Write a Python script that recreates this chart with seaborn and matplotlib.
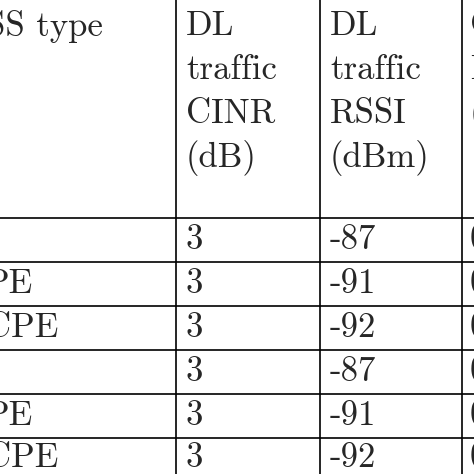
import matplotlib
matplotlib.use("Agg")
import matplotlib.pyplot as plt
import seaborn as sns

sns.set_style("white")
plt.rcParams['font.family'] = ['cmr10', 'DejaVu Serif']
plt.rcParams['axes.formatter.use_mathtext'] = True

header = [["SS type"], ["DL", "traffic", "CINR", "(dB)"], ["DL", "traffic", "RSSI", "(dBm)"], ["C", "I", "("]]
ss_type = ["", "PE", "CPE", "", "PE", "CPE"]
cinr = ["3", "3", "3", "3", "3", "3"]
rssi = ["-87", "-91", "-92", "-87", "-91", "-92"]
col4 = ["0", "0", "0", "0", "0", "0"]

col_x = [-14, 186, 330, 470]
vlines = [176, 320, 462]
header_y = [26, 70, 114, 158]
row_y = [240, 284, 328, 372, 416, 458]
hlines = [218, 262, 306, 350, 394, 438]

fig = plt.figure(figsize=(4.74, 4.74), dpi=100)
ax = fig.add_axes([0, 0, 1, 1])
ax.set_xlim(0, 474)
ax.set_ylim(474, 0)
ax.axis("off")

for x in vlines:
    ax.plot([x, x], [0, 474], color="black", lw=1.2)
for y in hlines:
    ax.plot([0, 474], [y, y], color="black", lw=1.2)

for c, lines in enumerate(header):
    for i, t in enumerate(lines):
        ax.text(col_x[c], header_y[i], t, fontsize=25, va="center", ha="left",
                fontweight="bold" if c == 3 else "normal")
for c, col in enumerate([ss_type, cinr, rssi, col4]):
    for i, t in enumerate(col):
        ax.text(col_x[c], row_y[i], t, fontsize=25, va="center", ha="left")

fig.savefig("out.png", dpi=100)
